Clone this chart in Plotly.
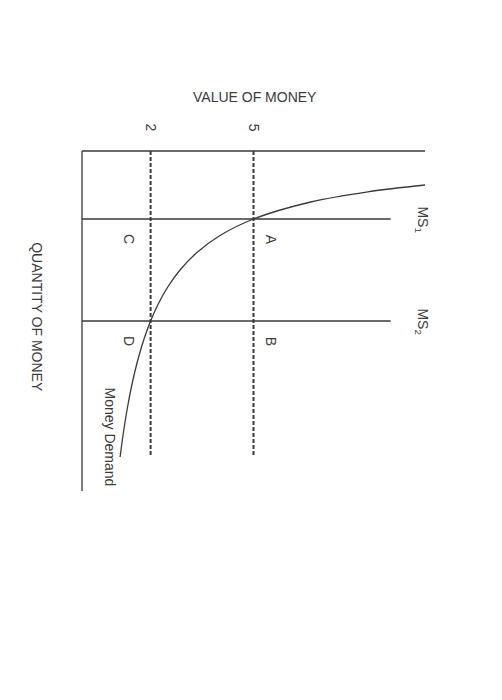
import numpy as np
import plotly.graph_objects as go

value_ticks = [2, 5]
tick_labels = ["2", "5"]
money_supply_q = [2, 5]
supply_labels = ["MS<sub>1</sub>", "MS<sub>2</sub>"]
demand_const = 10
demand_q = [1.0, 1.2, 1.5, 2, 2.5, 3, 3.5, 4, 4.5, 5, 5.5, 6, 6.5, 7, 7.5, 8, 8.5, 9.0]
demand_v = [demand_const / q for q in demand_q]
point_labels = ["A", "B", "C", "D"]
point_v = [5.5, 5.5, 1.35, 1.35]
point_q = [0.6 + 2, 0.6 + 5, 0.6 + 2, 0.6 + 5]

ink = "#3a3a3a"
font = dict(family="Liberation Sans, Arial", size=14, color=ink)
fig = go.Figure()
fig.add_trace(go.Scatter(x=[0, 0], y=[0, 10], mode="lines", line=dict(color=ink, width=1.3)))
fig.add_trace(go.Scatter(x=[0, 10.0], y=[0, 0], mode="lines", line=dict(color=ink, width=1.3)))
for q in money_supply_q:
    fig.add_trace(go.Scatter(x=[0, 9.0], y=[q, q], mode="lines", line=dict(color=ink, width=1.3)))
for v in value_ticks:
    fig.add_trace(go.Scatter(x=[v, v], y=[0, 8.95], mode="lines", line=dict(color=ink, width=2, dash="4px,2px")))
fig.add_trace(go.Scatter(x=demand_v, y=demand_q, mode="lines", line=dict(color=ink, width=1.3, shape="spline")))

ann = []
ann.append(dict(x=5.05, y=-1.6, text="VALUE OF MONEY", showarrow=False, font=font))
for v, t in zip(value_ticks, tick_labels):
    ann.append(dict(x=v, y=-0.7, text=t, textangle=90, showarrow=False, font=font))
for q, t in zip(money_supply_q, supply_labels):
    ann.append(dict(x=9.9, y=q, text=t, textangle=90, showarrow=False, font=font))
for v, q, t in zip(point_v, point_q, point_labels):
    ann.append(dict(x=v, y=q, text=t, textangle=90, showarrow=False, font=font))
ann.append(dict(x=0.82, y=8.4, text="Money Demand", textangle=90, showarrow=False, font=font))
ann.append(dict(x=-1.3, y=4.9, text="QUANTITY OF MONEY", textangle=90, showarrow=False, font=font))

fig.update_layout(
    width=502, height=700, margin=dict(l=0, r=0, t=0, b=0),
    paper_bgcolor="white", plot_bgcolor="white", showlegend=False,
    xaxis=dict(range=[-74/34.3, 428/34.3], visible=False, fixedrange=True),
    yaxis=dict(range=[557/34, -143/34], visible=False, fixedrange=True),
    annotations=ann,
)
fig.write_html("out.html")
